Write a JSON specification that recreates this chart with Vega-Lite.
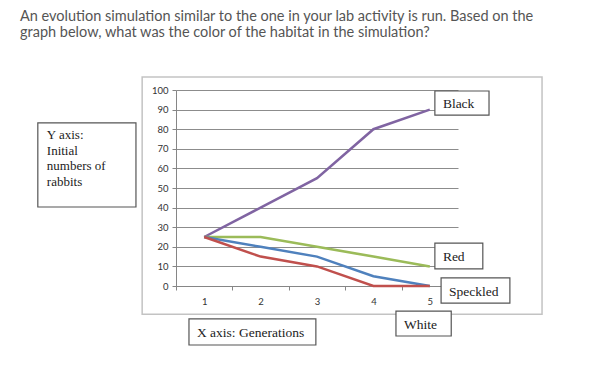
{
  "$schema": "https://vega.github.io/schema/vega-lite/v6.json",
  "width": 282,
  "height": 196,
  "autosize": {"type": "none"},
  "padding": {"left": 176, "top": 90, "right": 142, "bottom": 91},
  "background": "white",
  "config": {
    "view": {"stroke": null},
    "text": {"lineBreak": "\n"},
    "axisY": {
      "labelFont": "Lato",
      "labelFontSize": 9.5,
      "labelColor": "#333333",
      "labelPadding": 4,
      "tickSize": 4,
      "tickColor": "#868686",
      "domainColor": "#868686",
      "gridColor": "#8c8c8c",
      "gridWidth": 1
    }
  },
  "title": {
    "text": ["An evolution simulation similar to the one in your lab activity is run. Based on the", "graph below, what was the color of the habitat in the simulation?"],
    "anchor": "start",
    "frame": "group",
    "dx": -156,
    "offset": 36,
    "font": "Lato",
    "fontSize": 14.5,
    "fontWeight": "normal",
    "color": "#555555",
    "lineHeight": 16
  },
  "datasets": {
    "rabbits": [
      {"generation": 1, "series": "Purple", "rabbits": 25},
      {"generation": 2, "series": "Purple", "rabbits": 40},
      {"generation": 3, "series": "Purple", "rabbits": 55},
      {"generation": 4, "series": "Purple", "rabbits": 80},
      {"generation": 5, "series": "Purple", "rabbits": 90},
      {"generation": 1, "series": "Green", "rabbits": 25},
      {"generation": 2, "series": "Green", "rabbits": 25},
      {"generation": 3, "series": "Green", "rabbits": 20},
      {"generation": 4, "series": "Green", "rabbits": 15},
      {"generation": 5, "series": "Green", "rabbits": 10},
      {"generation": 1, "series": "Blue", "rabbits": 25},
      {"generation": 2, "series": "Blue", "rabbits": 20},
      {"generation": 3, "series": "Blue", "rabbits": 15},
      {"generation": 4, "series": "Blue", "rabbits": 5},
      {"generation": 5, "series": "Blue", "rabbits": 0},
      {"generation": 1, "series": "Red", "rabbits": 25},
      {"generation": 2, "series": "Red", "rabbits": 15},
      {"generation": 3, "series": "Red", "rabbits": 10},
      {"generation": 4, "series": "Red", "rabbits": 0},
      {"generation": 5, "series": "Red", "rabbits": 0}
    ],
    "boxes": [
      {"label": "Black", "lines": 1, "x1": 5.09, "x2": 6.05, "y1": 87.2, "y2": 99.5},
      {"label": "Red", "lines": 1, "x1": 5.09, "x2": 5.94, "y1": 8.7, "y2": 21.9},
      {"label": "Speckled", "lines": 1, "x1": 5.2, "x2": 6.42, "y1": -8.7, "y2": 4.1},
      {"label": "White", "lines": 1, "x1": 4.4, "x2": 5.38, "y1": -25.5, "y2": -12.8},
      {"label": "X axis: Generations", "lines": 1, "x1": 0.73, "x2": 2.98, "y1": -30.1, "y2": -16.8},
      {"label": "Y axis:\nInitial\nnumbers of\nrabbits", "lines": 4, "x1": -1.95, "x2": -0.21, "y1": 40.3, "y2": 83.2}
    ]
  },
  "layer": [
    {
      "data": {"values": [{"x1": -0.1, "x2": 6.99, "y1": -14.4, "y2": 106.6}]},
      "mark": {"type": "rect", "fill": null, "stroke": "#c3c3c3", "strokeWidth": 1.5},
      "encoding": {
        "x": {"field": "x1", "type": "quantitative", "scale": {"domain": [0.5, 5.5], "nice": false, "zero": false}, "axis": null},
        "x2": {"field": "x2"},
        "y": {"field": "y1", "type": "quantitative", "scale": {"domain": [0, 100]}, "axis": {"title": null, "values": [0, 10, 20, 30, 40, 50, 60, 70, 80, 90, 100], "grid": true}},
        "y2": {"field": "y2"}
      }
    },
    {
      "data": {"name": "rabbits"},
      "mark": {"type": "line", "strokeWidth": 2.5},
      "encoding": {
        "x": {
          "field": "generation",
          "type": "ordinal",
          "scale": {"type": "band", "paddingInner": 0, "paddingOuter": 0},
          "axis": {
            "title": null,
            "tickBand": "extent",
            "labelAngle": 0,
            "labelFont": "Lato",
            "labelFontSize": 9.5,
            "labelColor": "#333333",
            "labelPadding": 6,
            "tickSize": 4,
            "tickColor": "#868686",
            "domainColor": "#868686",
            "grid": false
          }
        },
        "y": {"field": "rabbits", "type": "quantitative", "scale": {"domain": [0, 100]}, "axis": {"title": null, "values": [0, 10, 20, 30, 40, 50, 60, 70, 80, 90, 100], "grid": true}},
        "color": {
          "field": "series",
          "type": "nominal",
          "scale": {"domain": ["Purple", "Green", "Blue", "Red"], "range": ["#8064A2", "#9BBB59", "#4F81BD", "#C0504D"]},
          "legend": null
        }
      }
    },
    {
      "data": {"name": "boxes"},
      "mark": {"type": "rect", "fill": "white", "stroke": "#555555", "strokeWidth": 1.2},
      "encoding": {
        "x": {"field": "x1", "type": "quantitative", "scale": {"domain": [0.5, 5.5], "nice": false, "zero": false}, "axis": null},
        "x2": {"field": "x2"},
        "y": {"field": "y1", "type": "quantitative", "scale": {"domain": [0, 100]}, "axis": {"title": null, "values": [0, 10, 20, 30, 40, 50, 60, 70, 80, 90, 100], "grid": true}},
        "y2": {"field": "y2"}
      }
    },
    {
      "data": {"name": "boxes"},
      "transform": [{"filter": "datum.lines == 1"}, {"calculate": "(datum.y1 + datum.y2) / 2", "as": "ymid"}],
      "mark": {"type": "text", "align": "left", "baseline": "middle", "dx": 8, "dy": 1, "font": "Liberation Serif", "fontSize": 13.5, "color": "#222222"},
      "encoding": {
        "x": {"field": "x1", "type": "quantitative", "scale": {"domain": [0.5, 5.5], "nice": false, "zero": false}, "axis": null},
        "y": {"field": "ymid", "type": "quantitative", "scale": {"domain": [0, 100]}, "axis": {"title": null, "values": [0, 10, 20, 30, 40, 50, 60, 70, 80, 90, 100], "grid": true}},
        "text": {"field": "label"}
      }
    },
    {
      "data": {"name": "boxes"},
      "transform": [{"filter": "datum.lines > 1"}],
      "mark": {"type": "text", "align": "left", "baseline": "top", "dx": 9, "dy": 6, "font": "Liberation Serif", "fontSize": 13, "color": "#222222", "lineHeight": 15.7},
      "encoding": {
        "x": {"field": "x1", "type": "quantitative", "scale": {"domain": [0.5, 5.5], "nice": false, "zero": false}, "axis": null},
        "y": {"field": "y2", "type": "quantitative", "scale": {"domain": [0, 100]}, "axis": {"title": null, "values": [0, 10, 20, 30, 40, 50, 60, 70, 80, 90, 100], "grid": true}},
        "text": {"field": "label"}
      }
    }
  ],
  "resolve": {"scale": {"x": "independent"}}
}
